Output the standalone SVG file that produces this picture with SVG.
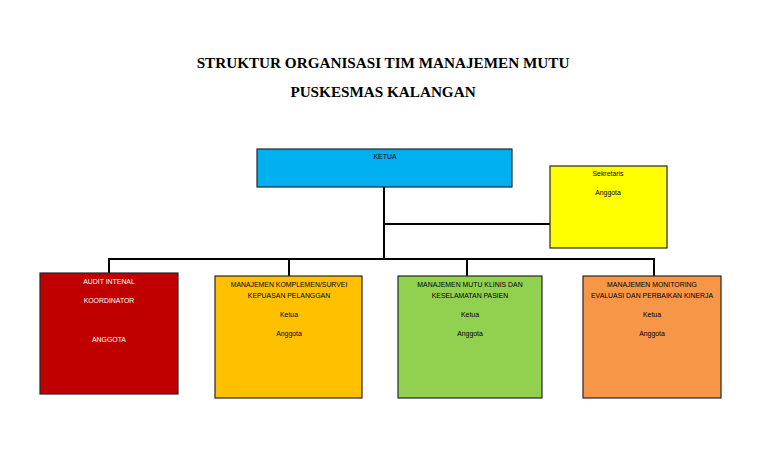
<svg xmlns="http://www.w3.org/2000/svg" width="768" height="466" viewBox="0 0 768 466">
<style>
.box{stroke:#262626;stroke-width:1.2}
.t{font-family:"Liberation Sans",Arial,sans-serif;font-size:6.9px;text-anchor:middle;fill:#000}
.w{fill:#fff}
.title{font-family:"Liberation Serif","Times New Roman",serif;font-weight:bold;font-size:15.2px;text-anchor:middle;fill:#000}
.ln{stroke:#000;stroke-width:2;fill:none}
</style>
<rect width="768" height="466" fill="#fff"/>
<text class="title" x="383" y="68">STRUKTUR ORGANISASI TIM MANAJEMEN MUTU</text>
<text class="title" x="383" y="97">PUSKESMAS KALANGAN</text>
<g id="connectors">
<path class="ln" d="M384 187V259"/>
<path class="ln" d="M384 224H550"/>
<path class="ln" d="M109 259H654"/>
<path class="ln" d="M109 258V273"/>
<path class="ln" d="M289 258V276"/>
<path class="ln" d="M467 258V276"/>
<path class="ln" d="M654 258V276"/>
</g>
<g id="ketua">
<rect class="box" x="257" y="149" width="255" height="38" fill="#00B0F0"/>
<text class="t" x="385" y="159">KETUA</text>
</g>
<g id="sekretaris">
<rect class="box" x="550" y="166" width="117" height="82" fill="#FFFF00"/>
<text class="t" x="608" y="176">Sekretaris</text>
<text class="t" x="608" y="195">Anggota</text>
</g>
<g id="audit">
<rect class="box" x="40" y="273" width="138" height="121" fill="#C00000"/>
<text class="t w" x="109" y="284">AUDIT INTENAL</text>
<text class="t w" x="109" y="303">KOORDINATOR</text>
<text class="t w" x="109" y="342">ANGGOTA</text>
</g>
<g id="komplemen">
<rect class="box" x="215" y="276" width="147" height="122" fill="#FFC000"/>
<text class="t" x="289" y="287">MANAJEMEN KOMPLEMEN/SURVEI</text>
<text class="t" x="289" y="298">KEPUASAN PELANGGAN</text>
<text class="t" x="289" y="317">Ketua</text>
<text class="t" x="289" y="336">Anggota</text>
</g>
<g id="klinis">
<rect class="box" x="398" y="276" width="144" height="122" fill="#92D050"/>
<text class="t" x="470" y="287">MANAJEMEN MUTU KLINIS DAN</text>
<text class="t" x="470" y="298">KESELAMATAN PASIEN</text>
<text class="t" x="470" y="317">Ketua</text>
<text class="t" x="470" y="336">Anggota</text>
</g>
<g id="monitoring">
<rect class="box" x="583" y="276" width="138" height="122" fill="#F79646"/>
<text class="t" x="652" y="287">MANAJEMEN MONITORING</text>
<text class="t" x="652" y="298">EVALUASI DAN PERBAIKAN KINERJA</text>
<text class="t" x="652" y="317">Ketua</text>
<text class="t" x="652" y="336">Anggota</text>
</g>
</svg>
